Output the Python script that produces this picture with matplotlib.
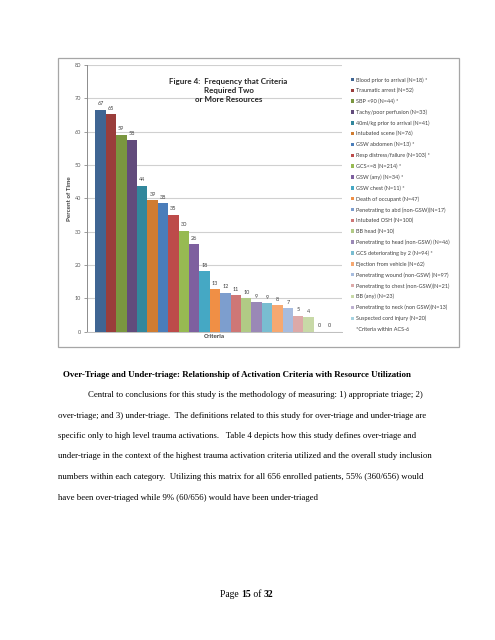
import matplotlib
matplotlib.use("Agg")
import matplotlib.pyplot as plt
from matplotlib.patches import Rectangle, Patch
from matplotlib.text import Annotation

criteria = [
    "Blood prior to arrival (N=18) *",
    "Traumatic arrest (N=52)",
    "SBP <90 (N=44) *",
    "Tachy/poor perfusion (N=33)",
    "40ml/kg prior to arrival (N=41)",
    "Intubated scene (N=76)",
    "GSW abdomen (N=13) *",
    "Resp distress/failure (N=103) *",
    "GCS<=8 (N=214) *",
    "GSW (any) (N=34) *",
    "GSW chest (N=11) *",
    "Death of occupant (N=47)",
    "Penetrating to abd (non-GSW)(N=17)",
    "Intubated OSH (N=100)",
    "BB head (N=10)",
    "Penetrating to head (non-GSW) (N=46)",
    "GCS deteriorating by 2 (N=94) *",
    "Ejection from vehicle (N=62)",
    "Penetrating wound (non-GSW) (N=97)",
    "Penetrating to chest (non-GSW)(N=21)",
    "BB (any) (N=23)",
    "Penetrating to neck (non GSW)(N=13)",
    "Suspected cord injury (N=20)",
]
percent = [66.6, 65.3, 59.1, 57.6, 43.8, 39.5, 38.5, 35.1, 30.3, 26.3, 18.2,
           12.8, 11.7, 11.0, 10.0, 8.8, 8.5, 8.0, 7.1, 4.8, 4.3, 0, 0]
value_labels = ["67", "65", "59", "58", "44", "39", "38", "35", "30", "26", "18",
                "13", "12", "11", "10", "9", "9", "8", "7", "5", "4", "0", "0"]
colors = ["#3F6593", "#9A3D3B", "#7A963F", "#624B7C", "#32879C", "#D07C31",
          "#4A7DBA", "#BD4B4A", "#97BA52", "#7E609F", "#45A8C4", "#F08F45",
          "#7D9ECE", "#CE7776", "#B1CA85", "#9A88B6", "#79BDD1", "#F6A871",
          "#A7BCDF", "#DDA9A8", "#C8D9A7", "#BDB0D0", "#A6D3E1"]
y_ticks = [0, 10, 20, 30, 40, 50, 60, 70, 80]

heading = "Over-Triage and Under-triage: Relationship of Activation Criteria with Resource Utilization"
body_lines = [
    "Central to conclusions for this study is the methodology of measuring: 1) appropriate triage; 2)",
    "over-triage; and 3) under-triage.  The definitions related to this study for over-triage and under-triage are",
    "specific only to high level trauma activations.   Table 4 depicts how this study defines over-triage and",
    "under-triage in the context of the highest trauma activation criteria utilized and the overall study inclusion",
    "numbers within each category.  Utilizing this matrix for all 656 enrolled patients, 55% (360/656) would",
    "have been over-triaged while 9% (60/656) would have been under-triaged",
]
page_parts = [("Page ", "normal"), ("15", "bold"), (" of ", "normal"), ("32", "bold")]

W, H = 495, 640
fig = plt.figure(figsize=(W / 100, H / 100), dpi=100)


def fx(px):
    return px / W


def fy(py):
    return 1 - py / H


# chart area border (behind the axes)
fig.patches.append(Rectangle((fx(58), fy(347)), fx(459) - fx(58), fy(58) - fy(347),
                             transform=fig.transFigure, facecolor="white",
                             edgecolor="#A6A6A6", linewidth=0.9, zorder=-5))

ax = fig.add_axes([fx(87), fy(331.7), fx(342) - fx(87), fy(65) - fy(331.7)])
ax.set_facecolor("none")
x = list(range(len(percent)))
bars = ax.bar(x, percent, width=1.0, color=colors, linewidth=0, zorder=3)
for xi, v, lab in zip(x, percent, value_labels):
    ax.text(xi, v + 1.0, lab, ha="center", va="bottom", fontsize=4,
            color="#404040", family="Lato")

ax.set_ylim(0, 80)
ax.set_xlim(-1.3, 23.2)
ax.set_yticks(y_ticks)
ax.set_xticks([])
ax.yaxis.grid(True, color="#D0D0D0", linewidth=0.8, zorder=0)
for s in ["top", "right"]:
    ax.spines[s].set_visible(False)
ax.spines["left"].set_color("#8C8C8C")
ax.spines["bottom"].set_color("#BFBFBF")
ax.spines["left"].set_linewidth(0.7)
ax.spines["bottom"].set_linewidth(0.7)
ax.tick_params(axis="y", length=2.5, width=0.6, color="#8C8C8C", pad=2,
               labelsize=4, labelcolor="#595959")
for t in ax.get_yticklabels():
    t.set_family("Lato")
ax.set_ylabel("Percent of Time", fontsize=4.5, fontweight="bold",
              family="Lato", color="#404040", labelpad=2)
ax.set_xlabel("Criteria", fontsize=4.5, fontweight="bold", family="Lato",
              color="#404040", labelpad=2)

fig.text(fx(228.5), fy(78), "Figure 4:  Frequency that Criteria\nRequired Two\nor More Resources",
         ha="center", va="top", fontsize=5.8, fontweight="bold", family="Lato",
         color="#262626", linespacing=1.35)

handles = list(bars) + [Patch(facecolor="none", edgecolor="none")]
labels = criteria + ["*Criteria within ACS-6"]
fig.legend(handles, labels, loc="upper left",
           bbox_to_anchor=(fx(351), fy(77)), frameon=False,
           prop={"family": "Lato", "size": 4}, labelcolor="#404040",
           handlelength=0.6, handleheight=0.6, handletextpad=0.3,
           labelspacing=0.97, borderpad=0, borderaxespad=0)

# document text below the chart
fig.text(fx(62.7), fy(374.7), heading, ha="left", va="center", fontsize=6.4,
         fontweight="bold", family="Liberation Serif", color="black")
starts = [88, 58, 58, 58, 58, 58]
for i, (line, sx) in enumerate(zip(body_lines, starts)):
    fig.text(fx(sx), fy(395 + i * 20.5), line, ha="left", va="center",
             fontsize=6.35, family="Liberation Serif", color="black")

# footer with bold page numbers, pieces chained left to right
last = fig.text(fx(220.5), fy(597), page_parts[0][0], ha="left", va="baseline",
                fontsize=6.9, family="Liberation Serif", color="black")
for txt, wt in page_parts[1:]:
    last = fig.add_artist(Annotation(
        txt, xy=(1, 0), xycoords=last, xytext=(0, 0), textcoords="offset points",
        va="bottom", ha="left", fontsize=6.9, family="Liberation Serif",
        fontweight=wt, color="black"))

fig.savefig("out.png", dpi=100, facecolor="white")
